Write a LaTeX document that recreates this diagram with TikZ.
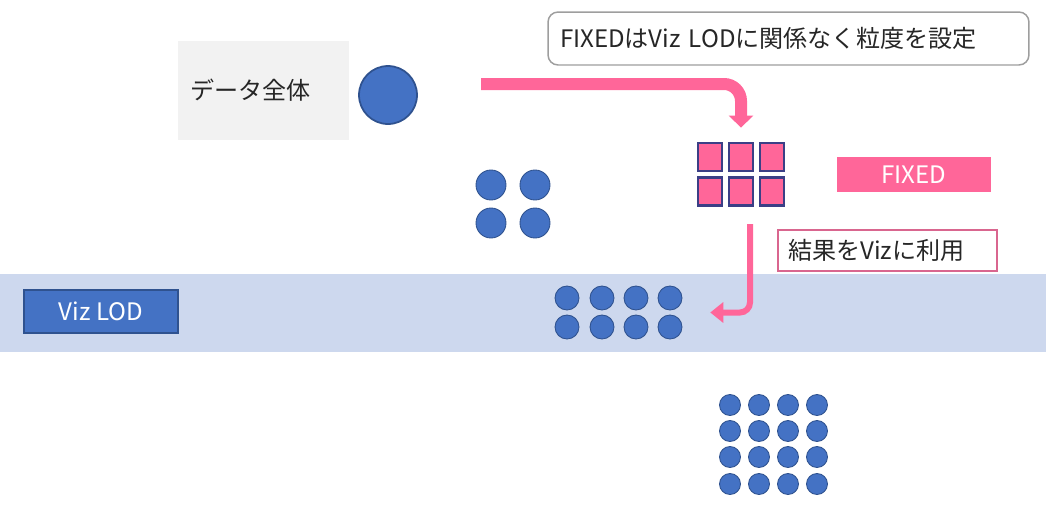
\documentclass[tikz,border=0pt]{standalone}
\usepackage{fontspec}
\newfontfamily\jp{Noto Sans CJK JP}
\usetikzlibrary{arrows.meta,fit}
\definecolor{lodpink}{HTML}{FF6699}
\definecolor{lodblue}{HTML}{4472C4}
\definecolor{lodedge}{HTML}{2F528F}
\definecolor{lodband}{HTML}{CDD8EE}
\definecolor{sqedge}{HTML}{3B3F86}
\definecolor{usepink}{HTML}{D9668F}
\definecolor{txtgray}{HTML}{262626}

\begin{document}
\begin{tikzpicture}[x=0.02cm,y=-0.02cm,font=\jp\fontsize{13.7}{16}\selectfont,text=txtgray,
 dot/.style={circle,fill=lodblue,draw=lodedge,line width=0.5pt,inner sep=0pt},
 sq/.style={rectangle,fill=lodpink,draw=sqedge,line width=1.2pt,inner sep=0pt,minimum width=0.48cm,minimum height=0.56cm},
 flow/.style={draw=lodpink,line width=0.24cm,rounded corners=0.34cm,-{Triangle[width=0.48cm,length=0.24cm]}}]
\useasboundingbox (0,0) rectangle (1046,514);
\fill[lodband] (0,274) rectangle (1046,352);

\node[fill=black!5,minimum height=1.98cm,text width=2.94cm,inner xsep=0.24cm,align=left] (whole) at (263.5,90.5) {データ全体};
\node[dot,minimum size=1.16cm,line width=1pt] (big) at (388,95) {};
\node[draw=black!38,line width=0.85pt,rounded corners=0.2cm,fill=white,minimum height=1.06cm,text width=9.14cm,inner xsep=0.24cm,align=left] (note) at (788.5,38.5) {FIXEDはViz LODに関係なく粒度を設定};
\node[draw=usepink,line width=0.8pt,fill=white,minimum height=0.82cm,text width=3.98cm,inner xsep=0.2cm,align=left] (use) at (887.5,250.5) {結果をVizに利用};
\node[fill=lodpink,text=white,minimum width=3.08cm,minimum height=0.7cm] (fixed) at (914,174.5) {FIXED};
\node[fill=lodblue,draw=lodedge,line width=1pt,text=white,minimum width=3.08cm,minimum height=0.86cm] (viz) at (101,311.5) {Viz LOD};

\foreach \r/\y in {0/185,1/223}{
 \foreach \c/\x in {0/491,1/535}{
  \node[dot,minimum size=0.6cm] (q\r\c) at (\x,\y) {};
 }
}
\foreach \r/\y in {0/157,1/191.5}{
 \foreach \c/\x in {0/710,1/741,2/772}{
  \node[sq] (f\r\c) at (\x,\y) {};
 }
}
\node[fit=(f00)(f12),inner sep=0pt] (fixgrp) {};
\foreach \r/\y in {0/298,1/327}{
 \foreach \c/\x in {0/567,1/602,2/636,3/670}{
  \node[dot,minimum size=0.48cm] (v\r\c) at (\x,\y) {};
 }
}
\node[fit=(v00)(v13),inner sep=0pt] (vizgrp) {};
\foreach \r/\y in {0/405,1/431,2/457,3/484}{
 \foreach \c/\x in {0/730,1/759,2/788,3/817}{
  \node[dot,minimum size=0.42cm] (g\r\c) at (\x,\y) {};
 }
}

\coordinate (fixstart) at (481,84);
\coordinate (usestart) at (750,224);
\draw[flow] (fixstart) -| ([yshift=0.28cm]fixgrp.north);
\draw[flow,line width=0.12cm,rounded corners=0.2cm,-{Triangle[width=0.4cm,length=0.26cm]}] (usestart) |- ([xshift=0.55cm]vizgrp.east);
\end{tikzpicture}
\end{document}
